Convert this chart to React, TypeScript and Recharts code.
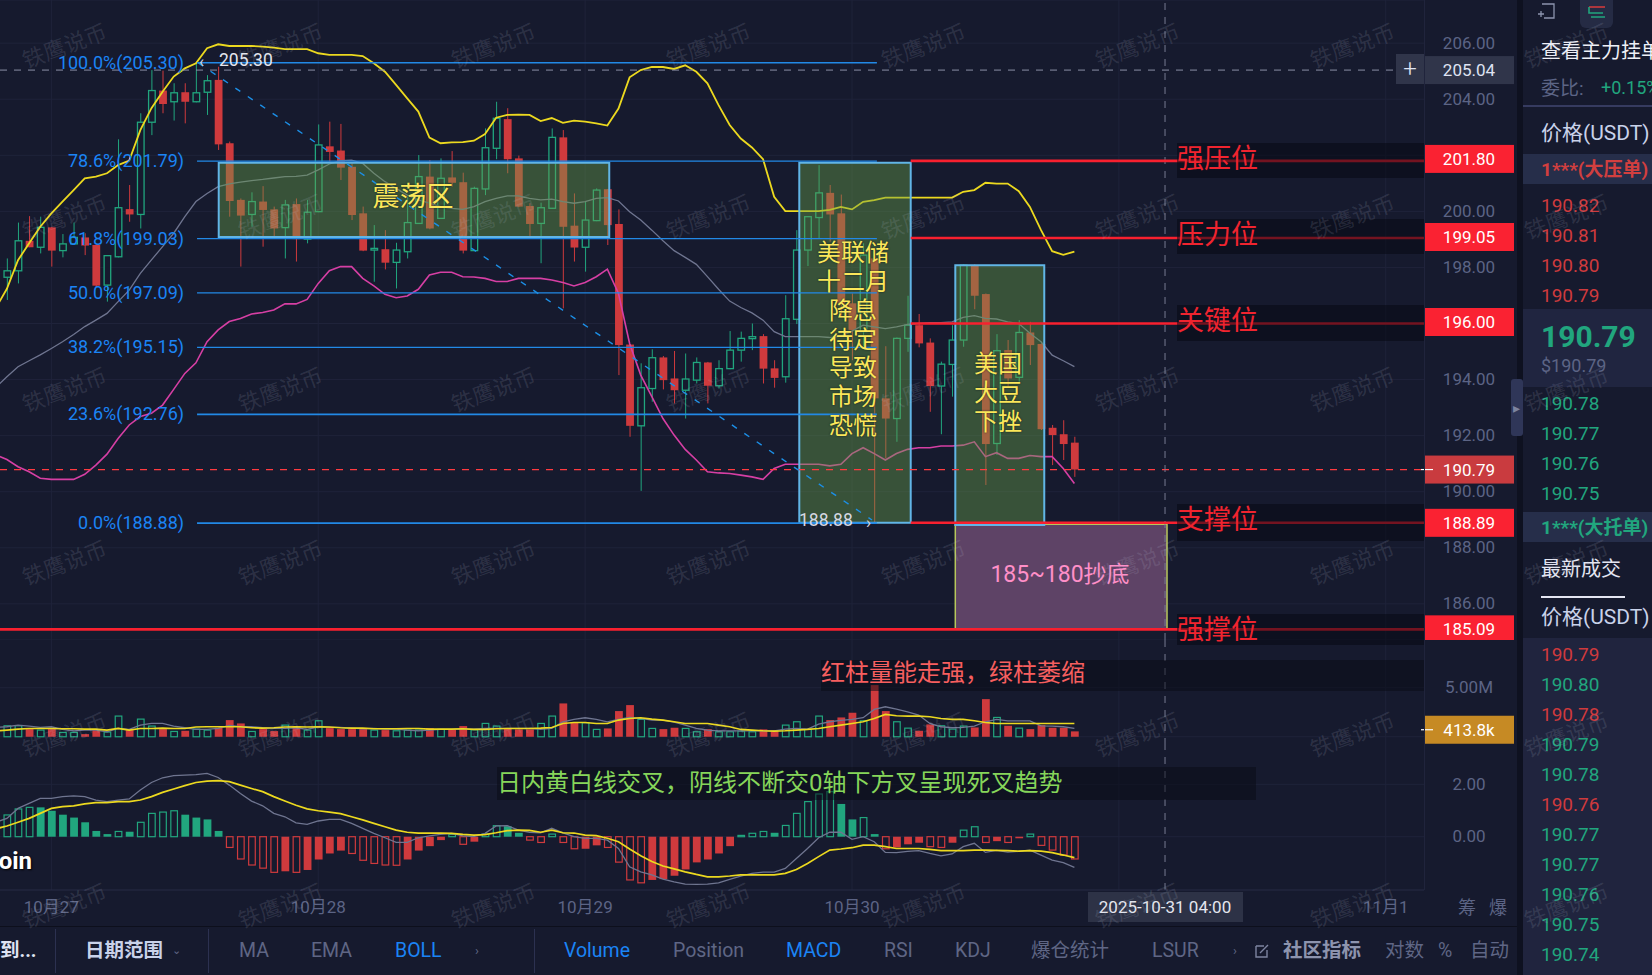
import React from 'react';
import { ComposedChart, Bar, Line, XAxis, YAxis, CartesianGrid, ReferenceLine, ReferenceArea, Label } from 'recharts';

const opens = [
  197.65,197.88,198.95,198.72,199.43,198.60,198.84,199.07,198.80,197.37,
  198.38,200.08,199.89,203.18,204.31,203.91,204.25,203.91,204.25,204.69,
  202.43,200.41,199.89,200.35,200.07,199.42,200.26,199.01,199.99,202.32,
  202.17,201.59,199.93,198.62,198.65,198.18,198.56,199.57,201.24,199.75,
  201.21,201.04,198.60,200.80,202.25,203.29,201.89,200.19,199.57,200.11,
  202.64,199.49,198.72,199.67,200.79,199.55,195.25,192.35,193.68,194.79,
  194.04,193.62,193.98,194.61,193.78,194.39,195.05,195.46,195.55,194.40,
  194.10,196.15,198.62,199.78,200.66,199.93,196.72,195.71,198.32,193.33,
  192.61,195.47,195.94,195.32,193.77,194.54,195.41,198.08,197.05,191.72,
  195.05,194.08,195.68,195.27,192.28,192.05,191.75,
];
const closes = [
  197.88,198.95,198.72,199.43,198.60,198.84,199.07,198.78,197.35,198.42,
  200.13,199.89,203.18,204.31,203.83,204.23,203.91,204.23,204.66,202.39,
  200.37,199.85,200.35,200.05,199.39,200.23,199.01,199.97,202.37,202.12,
  201.56,199.87,198.60,198.68,198.17,198.62,199.60,201.24,199.39,201.18,
  201.02,198.60,200.82,202.27,203.32,201.86,200.17,199.55,200.13,202.64,
  199.45,198.71,199.69,200.76,199.51,195.23,192.35,193.71,194.78,193.98,
  193.62,194.02,194.61,193.78,194.39,195.05,195.47,195.53,194.39,194.06,
  196.17,198.62,199.81,200.66,199.89,196.72,195.76,198.44,193.33,192.61,
  195.47,195.94,195.29,193.77,194.55,195.41,198.08,196.99,191.70,195.03,
  194.04,195.68,195.23,192.23,192.02,191.70,190.79,
];
const highs = [
  198.32,199.60,199.83,199.81,199.45,199.19,199.60,199.22,198.82,198.44,
  202.57,200.94,203.50,205.04,205.02,204.57,204.57,205.30,204.86,205.16,
  202.49,200.46,200.68,200.90,200.17,200.41,200.46,200.41,203.10,203.20,
  203.12,201.71,200.17,199.51,199.33,198.88,200.52,202.01,201.83,201.89,
  202.15,201.38,200.88,202.96,203.91,203.68,201.99,200.29,200.31,202.96,
  202.90,200.64,200.35,200.82,200.80,200.07,195.27,194.58,195.08,194.84,
  195.02,194.93,194.79,194.63,194.69,195.73,195.71,196.00,195.62,194.69,
  197.01,199.33,199.83,201.65,200.94,200.60,197.07,198.86,198.50,195.19,
  195.50,196.99,196.34,195.47,194.64,195.94,198.11,198.11,197.07,195.62,
  195.41,196.12,196.06,195.29,192.38,192.55,191.96,
];
const lows = [
  196.84,197.43,198.72,198.50,198.03,198.36,198.80,198.44,197.31,196.78,
  198.36,199.63,199.39,202.72,203.50,203.24,203.14,203.89,203.44,202.19,
  199.81,198.03,199.45,198.74,199.04,198.32,198.21,198.86,199.97,201.77,
  201.12,199.69,198.58,197.49,197.93,197.25,198.32,199.55,199.36,199.73,
  200.88,198.50,198.58,200.58,201.86,201.36,200.15,199.12,198.15,200.09,
  196.54,198.21,197.85,199.65,198.80,194.16,191.96,190.03,193.21,193.65,
  193.15,192.61,193.86,193.15,193.68,194.37,194.64,195.05,193.86,193.71,
  193.89,195.98,198.05,199.04,198.92,196.24,194.69,195.17,188.88,191.19,
  191.78,194.99,195.15,192.85,192.05,193.39,195.17,196.51,190.24,191.31,
  193.74,193.92,194.52,192.20,190.95,191.13,190.53,
];
const bollUpper = [
  197.24,198.26,198.86,199.45,199.93,200.35,200.76,201.18,201.24,201.36,
  201.65,201.81,202.90,203.68,204.27,204.81,205.10,205.28,205.82,205.96,
  205.90,205.90,205.90,205.88,205.84,205.79,205.79,205.79,205.64,205.58,
  205.58,205.58,205.54,205.28,204.98,204.51,204.03,203.56,202.63,202.43,
  202.46,202.47,202.52,202.76,203.34,203.44,203.45,203.44,203.22,203.33,
  203.16,203.24,203.20,203.14,203.06,203.67,204.78,205.04,205.15,205.15,
  205.08,205.21,204.98,204.57,203.79,203.08,202.60,202.28,201.86,200.52,
  200.01,200.01,200.01,200.01,200.05,200.16,200.07,200.34,200.40,200.49,
  200.49,200.49,200.49,200.49,200.49,200.49,200.70,200.76,201.02,200.99,
  200.99,200.72,200.16,199.33,198.58,198.45,198.56,
];
const bollMid = [
  194.10,194.46,194.67,194.88,195.11,195.35,195.61,195.89,196.12,196.36,
  196.78,197.19,197.79,198.27,198.74,199.22,199.81,200.35,200.64,200.88,
  200.98,201.04,201.10,201.14,201.19,201.24,201.25,201.29,201.48,201.69,
  201.81,201.83,201.71,201.36,201.06,200.82,200.58,200.41,200.29,200.17,
  200.11,200.07,200.17,200.35,200.46,200.55,200.55,200.46,200.41,200.44,
  200.35,200.29,200.35,200.46,200.49,200.37,199.99,199.69,199.33,198.95,
  198.60,198.36,198.11,197.67,197.22,196.80,196.57,196.38,196.12,195.71,
  195.53,195.53,195.53,195.53,195.50,195.55,195.73,195.94,195.88,195.82,
  195.88,195.97,196.00,196.03,196.03,196.06,196.22,196.28,196.18,196.16,
  196.06,196.00,195.65,195.35,194.87,194.67,194.46,
];
const bollLower = [
  191.15,190.89,190.71,190.48,190.44,190.44,190.44,190.62,190.95,191.34,
  191.90,192.38,192.68,192.80,193.09,193.65,194.22,194.60,195.35,195.77,
  196.07,196.18,196.34,196.39,196.48,196.70,196.70,196.86,197.43,197.88,
  198.03,198.03,197.61,197.34,197.04,196.92,196.98,197.22,197.73,197.83,
  197.83,197.67,197.66,197.61,197.50,197.50,197.61,197.61,197.61,197.55,
  197.46,197.34,197.46,197.67,197.94,197.07,195.29,194.16,193.39,192.61,
  192.02,191.51,191.13,190.71,190.67,190.65,190.59,190.53,190.44,190.83,
  190.98,190.98,190.98,190.98,190.92,190.98,191.36,191.57,191.36,191.13,
  191.36,191.51,191.57,191.57,191.63,191.63,191.66,191.78,191.25,191.39,
  191.19,191.19,191.29,191.25,191.25,190.83,190.29,
];
const volumes = [
  1.12,1.12,0.78,0.68,0.78,0.44,0.44,0.27,0.68,0.48,
  2.11,0.68,1.80,1.09,0.78,0.54,0.61,0.78,0.68,0.92,
  1.70,1.36,0.54,0.78,0.58,1.19,1.09,0.68,1.63,0.88,
  0.78,0.78,0.78,0.68,0.68,0.61,0.68,0.68,0.88,0.75,
  0.75,1.09,0.71,1.36,1.09,0.85,0.75,0.75,1.36,2.11,
  3.40,1.43,1.43,0.75,0.85,2.62,3.23,1.77,0.85,0.78,
  0.92,0.85,0.51,0.78,0.51,0.51,0.58,0.51,0.75,0.58,
  1.19,1.53,0.75,2.11,1.70,1.97,2.45,1.63,5.27,2.62,
  1.53,0.88,0.61,1.26,1.12,0.78,1.09,0.95,3.84,1.97,
  1.12,0.88,0.78,1.19,0.92,0.92,0.55,
];
const volMaFast = [
  1.02,1.19,1.09,0.95,1.02,0.75,0.61,0.68,0.68,0.51,
  0.85,0.75,1.19,1.36,1.36,1.09,0.92,0.75,0.75,0.85,
  1.16,1.02,1.02,0.92,0.85,0.85,0.92,0.75,1.02,0.95,
  0.95,0.88,0.82,0.85,0.78,0.78,0.68,0.61,0.68,0.75,
  0.75,0.78,0.78,0.85,0.85,0.85,0.85,0.85,0.75,0.85,
  1.53,1.77,1.94,1.77,1.53,1.77,1.97,1.87,1.70,1.70,
  1.50,1.19,0.85,0.68,0.61,0.61,0.61,0.61,0.61,0.61,
  0.78,0.85,0.78,1.29,1.53,1.67,1.77,1.94,2.79,3.06,
  2.82,2.55,2.21,1.36,1.02,0.92,0.95,1.09,1.53,1.77,
  1.63,1.63,1.63,1.12,1.09,1.02,0.85,
];
const volMaSlow = [
  0.68,0.78,0.85,0.85,0.85,0.82,0.82,0.78,0.78,0.68,
  0.85,0.68,0.85,0.85,0.88,0.85,0.85,0.99,1.02,1.02,
  1.02,1.02,0.92,0.88,0.92,0.99,1.02,0.99,1.02,0.99,
  0.92,0.88,0.88,0.82,0.82,0.82,0.85,0.85,0.78,0.78,
  0.78,0.82,0.75,0.75,0.82,0.85,0.85,0.85,0.88,0.95,
  1.36,1.46,1.46,1.36,1.36,1.70,1.87,1.94,1.80,1.70,
  1.53,1.36,1.36,1.36,1.19,1.02,0.75,0.68,0.61,0.58,
  0.61,0.68,0.75,0.85,1.02,1.19,1.36,1.53,1.87,2.28,
  2.14,2.11,2.11,2.04,1.87,1.77,1.77,1.63,1.46,1.36,
  1.36,1.36,1.36,1.36,1.36,1.36,1.36,
];
const macdHist = [
  0.83,1.06,1.12,1.12,0.99,0.84,0.73,0.55,0.22,0.10,
  0.20,0.19,0.55,0.89,0.94,0.99,0.84,0.73,0.66,0.22,
  -0.41,-0.85,-1.08,-1.20,-1.36,-1.32,-1.36,-1.27,-0.87,-0.64,
  -0.53,-0.64,-0.90,-1.02,-1.08,-1.09,-0.87,-0.53,-0.36,-0.13,
  0.09,-0.29,-0.19,0.10,0.42,0.40,0.15,-0.13,-0.22,0.10,
  -0.22,-0.46,-0.46,-0.33,-0.41,-0.97,-1.65,-1.76,-1.65,-1.62,
  -1.49,-1.25,-0.98,-0.87,-0.64,-0.36,0.05,0.13,0.20,0.15,
  0.43,0.89,1.34,1.63,1.72,1.25,0.66,0.73,0.10,-0.46,
  -0.41,-0.29,-0.23,-0.38,-0.41,-0.23,0.25,0.38,-0.22,-0.17,
  -0.22,-0.06,0.10,-0.33,-0.51,-0.70,-0.85,
];
const macdDif = [
  0.70,1.08,1.27,1.46,1.46,1.53,1.56,1.53,1.40,1.34,
  1.40,1.44,1.78,2.07,2.25,2.33,2.35,2.37,2.42,2.26,
  1.97,1.65,1.36,1.18,0.89,0.76,0.53,0.47,0.60,0.66,
  0.66,0.51,0.32,0.13,-0.04,-0.22,-0.22,-0.04,0.03,0.09,
  0.13,0.03,0.00,0.13,0.41,0.42,0.25,0.17,0.15,0.32,
  0.15,0.00,-0.06,-0.06,-0.13,-0.45,-1.15,-1.34,-1.46,-1.62,
  -1.72,-1.81,-1.82,-1.81,-1.76,-1.63,-1.50,-1.40,-1.35,-1.35,
  -1.21,-0.83,-0.45,-0.04,0.17,0.17,-0.10,0.00,-0.19,-0.60,
  -0.61,-0.56,-0.53,-0.64,-0.73,-0.66,-0.38,-0.25,-0.60,-0.52,
  -0.59,-0.56,-0.51,-0.70,-0.89,-0.99,-1.17,
];
const macdDea = [
  0.41,0.55,0.70,0.89,1.08,1.15,1.18,1.25,1.30,1.30,
  1.34,1.34,1.40,1.53,1.69,1.82,1.95,2.07,2.12,2.14,
  2.10,1.97,1.84,1.72,1.53,1.36,1.20,1.06,0.99,0.94,
  0.88,0.76,0.64,0.51,0.38,0.25,0.17,0.14,0.14,0.14,
  0.13,0.09,0.06,0.08,0.15,0.23,0.25,0.24,0.17,0.25,
  0.15,0.14,0.06,0.04,-0.06,-0.19,-0.47,-0.73,-0.95,-1.12,
  -1.23,-1.34,-1.44,-1.53,-1.53,-1.50,-1.46,-1.46,-1.46,-1.46,
  -1.40,-1.25,-1.02,-0.76,-0.51,-0.47,-0.42,-0.32,-0.32,-0.38,
  -0.45,-0.45,-0.45,-0.48,-0.53,-0.53,-0.53,-0.51,-0.51,-0.52,
  -0.53,-0.55,-0.53,-0.55,-0.61,-0.70,-0.80,
];
// indicator values of the bar just left of the visible window
const leadIn = { i: -1, upper: 196.55, mid: 193.72, lower: 191.32, fast: 0.95, slow: 0.6, dif: 0.55, dea: 0.3 };

const fibLevels = [
  { name: '100.0%(205.30)', value: 205.3, thick: true },
  { name: '78.6%(201.79)', value: 201.79, thick: false },
  { name: '61.8%(199.03)', value: 199.03, thick: false },
  { name: '50.0%(197.09)', value: 197.09, thick: false },
  { name: '38.2%(195.15)', value: 195.15, thick: false },
  { name: '23.6%(192.76)', value: 192.76, thick: true },
  { name: '0.0%(188.88)', value: 188.88, thick: true },
];
const levelLines = [
  { value: 201.8, from: 81.28, label: '201.80' },
  { value: 199.05, from: 81.28, label: '199.05' },
  { value: 196.0, from: 81.28, label: '196.00' },
  { value: 188.89, from: 81.28, label: '188.89' },
  { value: 185.09, from: -0.62, label: '185.09' },
];
const tagShift = [-2, -1, -1.5, 0, 0];
const zones = [
  { x1: 19.05, x2: 54.17, y1: 199.09, y2: 201.73 },
  { x1: 71.26, x2: 81.28, y1: 188.89, y2: 201.73 },
  { x1: 85.29, x2: 93.29, y1: 188.81, y2: 198.08 },
];
const priceTicks = [206, 204, 202, 200, 198, 196, 194, 192, 190, 188, 186];
const dateTicks = [4, 28, 52, 76, 100, 124];
const dateLabels = ['10月27', '10月28', '10月29', '10月30', '10月31', '11月1'];
const askPrices = ['190.82', '190.81', '190.80', '190.79'];
const bidPrices = ['190.78', '190.77', '190.76', '190.75'];
const tradePrices = [
  ['190.79', 'r'], ['190.80', 'g'], ['190.78', 'r'], ['190.79', 'g'], ['190.78', 'g'], ['190.76', 'r'],
  ['190.77', 'g'], ['190.77', 'g'], ['190.76', 'g'], ['190.75', 'g'], ['190.74', 'g'],
];
const levelTexts = [
  { t: '强压位', y: 159, s: 143, h: 35 }, { t: '压力位', y: 235, s: 219, h: 35 }, { t: '关键位', y: 321, s: 305, h: 36 },
  { t: '支撑位', y: 520, s: 504, h: 37 }, { t: '强撑位', y: 630, s: 614, h: 31 },
];
const toolbarItems = [
  { t: '到...', x: 0, c: '#dfe3f2', b: 1 }, { t: '日期范围', x: 85, c: '#c9d2ea', b: 1 }, { t: 'MA', x: 239, c: '#5f6685' }, { t: 'EMA', x: 311, c: '#5f6685' },
  { t: 'BOLL', x: 395, c: '#1b84f5' }, { t: 'Volume', x: 564, c: '#1b84f5' }, { t: 'Position', x: 673, c: '#5f6685' }, { t: 'MACD', x: 786, c: '#1b84f5' },
  { t: 'RSI', x: 884, c: '#5f6685' }, { t: 'KDJ', x: 955, c: '#5f6685' }, { t: '爆仓统计', x: 1031, c: '#5f6685' }, { t: 'LSUR', x: 1152, c: '#5f6685' },
  { t: '社区指标', x: 1283, c: '#8d94ae', b: 1 }, { t: '对数', x: 1385, c: '#5f6685' }, { t: '%', x: 1438, c: '#5f6685' }, { t: '自动', x: 1470, c: '#5f6685' },
];
const wmXs = [65, 281, 494, 709, 924, 1138, 1353, 1567];
const wmYs = [47, 218, 391, 564, 736, 907];

const rows = [leadIn as any].concat(opens.map((o, i) => ({
  i, o, c: closes[i], h: highs[i], l: lows[i],
  range: [lows[i], highs[i]],
  upper: bollUpper[i], mid: bollMid[i], lower: bollLower[i],
  vol: volumes[i], fast: volMaFast[i], slow: volMaSlow[i],
  hist: macdHist[i], prev: i > 0 ? macdHist[i - 1] : 0, dif: macdDif[i], dea: macdDea[i],
})));

const BG = '#161a2e';
const GREEN = '#21a67e';
const RED = '#cf3a3d';
const GRID = '#1f233a';
const TXT = '#5c6485';
const FONT = 'Roboto, "Noto Sans CJK SC", sans-serif';
const XDOMAIN = [-0.62, 127.44];
const PRICE_DOMAIN = [184.71, 207.54];
const CROSS = 104.15;
const YELLOW = '#ecd91f';
const GREY = '#6f7590';

const Candle = (p: any) => {
  const { x, width, y, height, payload } = p;
  const { o, c, h, l } = payload;
  if (o === undefined) return null;
  const k = height / (h - l);
  const cx = x + width / 2;
  const up = c >= o;
  const col = up ? GREEN : RED;
  const top = y + (h - Math.max(o, c)) * k;
  const bh = Math.max(Math.abs(o - c) * k, 1);
  return (
    <g>
      <line x1={cx} x2={cx} y1={y} y2={y + height} stroke={col} strokeWidth={1} />
      {up
        ? <rect x={cx - 3.3} y={top} width={6.6} height={bh} fill={BG} stroke={col} strokeWidth={1.3} />
        : <rect x={cx - 3.9} y={top} width={7.8} height={bh} fill={col} />}
    </g>
  );
};
const VolBar = (p: any) => {
  const { x, width, y, height, payload } = p;
  if (payload.o === undefined) return null;
  const cx = x + width / 2;
  const up = payload.c >= payload.o;
  return up
    ? <rect x={cx - 3.3} y={y} width={6.6} height={height} fill="none" stroke={GREEN} strokeWidth={1.2} />
    : <rect x={cx - 3.9} y={y} width={7.8} height={height} fill={RED} />;
};
const MacdBar = (p: any) => {
  const { x, width, y, height, payload } = p;
  const v = payload.hist;
  if (v === undefined) return null;
  const cx = x + width / 2;
  const col = v >= 0 ? GREEN : RED;
  const hollow = v >= 0 ? v > payload.prev : v < payload.prev;
  const top = Math.min(y, y + height);
  const h = Math.abs(height);
  return hollow
    ? <rect x={cx - 3.3} y={top} width={6.6} height={h} fill="none" stroke={col} strokeWidth={1.2} />
    : <rect x={cx - 3.9} y={top} width={7.8} height={h} fill={col} />;
};
const axisTick = (fmt: (v: number) => string) => (p: any) => (
  <text x={p.x + 45} y={p.y + 5.5} textAnchor="middle" fontSize={17} fontFamily={FONT} fill={TXT}>{fmt(p.payload.value)}</text>
);
const tagContent = (text: string, bg: string, dash: boolean, dy: number, tc = '#fff') => (p: any) => {
  const vb = p.viewBox;
  const right = vb.x + vb.width;
  const cy = vb.y + dy;
  return (
    <g>
      <rect x={right} y={cy - 14} width={90} height={28} fill={bg} />
      {dash ? <line x1={right - 3} x2={right + 9} y1={cy} y2={cy} stroke="#fff" strokeWidth={1.2} /> : null}
      <text x={right + 45} y={cy + 6} textAnchor="middle" fontSize={17} fontFamily={FONT} fill={tc}>{text}</text>
    </g>
  );
};
const fibLabel = (text: string) => (p: any) => (
  <text x={p.viewBox.x - 13} y={p.viewBox.y + 6} textAnchor="end" fontSize={18} fontFamily={FONT} fill="#1b84f5">{text}</text>
);

const T = ({ x, y, c, s, t, w, a, extra }: any) => (
  <div style={{
    position: 'absolute', left: x, top: y, color: c, fontSize: s, fontWeight: w || 400, fontFamily: FONT, lineHeight: 1, whiteSpace: 'nowrap',
    transform: a === 'c' ? 'translate(-50%,-50%)' : 'translateY(-50%)', ...(extra || {}),
  }}>{t}</div>
);
const Rect = ({ x, y, w, h, c, extra }: any) => (
  <div style={{ position: 'absolute', left: x, top: y, width: w, height: h, background: c, ...(extra || {}) }} />
);
const glow = { textShadow: '0 0 2px rgba(10,12,20,0.8)' };

export default function App() {
  return (
    <div style={{ position: 'absolute', left: 0, top: 0, width: 1652, height: 975, overflow: 'hidden', background: BG }}>
      {/* price panel: marks */}
      <div style={{ position: 'absolute', left: 0, top: 0 }}>
        <ComposedChart width={1516} height={640} data={rows} margin={{ top: 0, right: 0, bottom: 0, left: 0 }}>
          <CartesianGrid stroke={GRID} verticalValues={dateTicks} />
          <XAxis type="number" dataKey="i" domain={XDOMAIN} allowDataOverflow hide />
          <YAxis orientation="right" width={92} domain={PRICE_DOMAIN} allowDataOverflow ticks={priceTicks} interval={0}
            axisLine={false} tickLine={false} tickSize={0} tickMargin={0} tick={axisTick((v) => v.toFixed(2))} />
          <Bar dataKey="range" barSize={8} shape={(p: any) => <Candle {...p} />} isAnimationActive={false} />
          <Line dataKey="upper" dot={false} activeDot={false} stroke={YELLOW} strokeWidth={1.8} isAnimationActive={false} />
          <Line dataKey="mid" dot={false} activeDot={false} stroke={GREY} strokeWidth={1.3} isAnimationActive={false} />
          <Line dataKey="lower" dot={false} activeDot={false} stroke="#d63fa4" strokeWidth={1.6} isAnimationActive={false} />
        </ComposedChart>
      </div>
      {/* price panel: drawings above the marks */}
      <div style={{ position: 'absolute', left: 0, top: 0 }}>
        <ComposedChart width={1516} height={640} data={rows} margin={{ top: 0, right: 92, bottom: 0, left: 0 }}>
          <XAxis type="number" dataKey="i" domain={XDOMAIN} allowDataOverflow hide />
          <YAxis domain={PRICE_DOMAIN} allowDataOverflow hide />
          <ReferenceLine y={205.04} stroke="#8a8fa5" strokeWidth={1} strokeDasharray="7 7" />
          <ReferenceLine y={190.79} stroke="#ff3b40" strokeWidth={1.3} strokeDasharray="7 7">
            <Label content={tagContent('190.79', '#c93b3f', true, 0)} />
          </ReferenceLine>
          <ReferenceLine x={CROSS} stroke="#767b91" strokeWidth={1} strokeDasharray="7 7" />
          {fibLevels.map((f) => (
            <ReferenceLine key={f.name} segment={[{ x: 17.1, y: f.value }, { x: 78.24, y: f.value }]} stroke="#2289e6" strokeWidth={f.thick ? 1.6 : 1.2}>
              <Label content={fibLabel(f.name)} />
            </ReferenceLine>
          ))}
          <ReferenceLine segment={[{ x: 17.2, y: 205.3 }, { x: 77.8, y: 188.99 }]} stroke="#1c8fe6" strokeWidth={1.4} strokeDasharray="6 9" />
          <ReferenceArea x1={85.29} x2={104.33} y1={185.09} y2={188.84} fill="#5e4366" fillOpacity={1} stroke="#b7c75c" strokeWidth={1.5} />
          {zones.map((z) => (
            <ReferenceArea key={z.x1} x1={z.x1} x2={z.x2} y1={z.y1} y2={z.y2} fill="#68a04b" fillOpacity={0.42} stroke="#61b5e6" strokeWidth={2} />
          ))}
          {levelLines.map((l, k) => (
            <ReferenceLine key={l.label} segment={[{ x: l.from, y: l.value }, { x: 127.44, y: l.value }]} stroke="#f8202f" strokeWidth={2.6}>
              <Label content={tagContent(l.label, '#fa2232', false, tagShift[k])} />
            </ReferenceLine>
          ))}
          <ReferenceLine y={205.04} stroke="none">
            <Label content={tagContent('205.04', '#30354a', false, 0, '#dfe3f2')} />
          </ReferenceLine>
        </ComposedChart>
      </div>
      {/* volume panel */}
      <div style={{ position: 'absolute', left: 0, top: 640 }}>
        <ComposedChart width={1516} height={105} data={rows} margin={{ top: 0, right: 0, bottom: 0, left: 0 }}>
          <CartesianGrid stroke={GRID} horizontalValues={[0, 5]} verticalValues={dateTicks} />
          <XAxis type="number" dataKey="i" domain={XDOMAIN} allowDataOverflow hide />
          <YAxis orientation="right" width={92} domain={[-0.84, 9.87]} allowDataOverflow ticks={[5]} interval={0}
            axisLine={false} tickLine={false} tickSize={0} tickMargin={0} tick={axisTick((v) => v.toFixed(2) + 'M')} />
          <Bar dataKey="vol" barSize={8} shape={(p: any) => <VolBar {...p} />} isAnimationActive={false} />
          <Line dataKey="fast" dot={false} activeDot={false} stroke={GREY} strokeWidth={1.3} isAnimationActive={false} />
          <Line dataKey="slow" dot={false} activeDot={false} stroke={YELLOW} strokeWidth={1.6} isAnimationActive={false} />
          <ReferenceLine x={CROSS} stroke="#767b91" strokeWidth={1} strokeDasharray="7 7" />
          <ReferenceLine y={0.41} stroke="none">
            <Label content={tagContent('413.8k', '#c68a24', true, -3)} />
          </ReferenceLine>
        </ComposedChart>
      </div>
      {/* MACD panel */}
      <div style={{ position: 'absolute', left: 0, top: 745 }}>
        <ComposedChart width={1516} height={181} data={rows} margin={{ top: 0, right: 0, bottom: 0, left: 0 }}>
          <CartesianGrid stroke={GRID} horizontalValues={[2, 0]} verticalValues={dateTicks} />
          <XAxis type="number" dataKey="i" domain={XDOMAIN} allowDataOverflow ticks={dateTicks} interval={0} height={36}
            axisLine={{ stroke: '#262b44' }} tickLine={false}
            tick={(p: any) => (
              <text x={p.x} y={p.y + 15} textAnchor="middle" fontSize={17} fontFamily={FONT} fill={TXT}>{dateLabels[dateTicks.indexOf(p.payload.value)]}</text>
            )} />
          <YAxis orientation="right" width={92} domain={[-2.034, 3.5]} allowDataOverflow ticks={[2, 0]} interval={0}
            axisLine={false} tickLine={false} tickSize={0} tickMargin={0} tick={axisTick((v) => v.toFixed(2))} />
          <Bar dataKey="hist" barSize={8} shape={(p: any) => <MacdBar {...p} />} isAnimationActive={false} />
          <Line dataKey="dif" dot={false} activeDot={false} stroke={GREY} strokeWidth={1.3} isAnimationActive={false} />
          <Line dataKey="dea" dot={false} activeDot={false} stroke={YELLOW} strokeWidth={1.7} isAnimationActive={false} />
          <ReferenceLine x={CROSS} stroke="#767b91" strokeWidth={1} strokeDasharray="7 7" />
        </ComposedChart>
      </div>

      {/* annotation strips and texts */}
      {levelTexts.map((l) => (
        <React.Fragment key={l.t}>
          <Rect x={1177} y={l.s} w={247} h={l.h} c="rgba(8,10,20,0.55)" />
          <T x={1177} y={l.y} c="#f0242f" s={27} t={l.t} />
        </React.Fragment>
      ))}
      <Rect x={821} y={660} w={603} h={31} c="rgba(8,10,20,0.5)" />
      <T x={821} y={673} c="#f75f5f" s={24} t="红柱量能走强，绿柱萎缩" />
      <Rect x={497} y={767} w={759} h={33} c="rgba(8,10,20,0.5)" />
      <T x={497} y={783} c="#86d65a" s={24} t="日内黄白线交叉，阴线不断交0轴下方叉呈现死叉趋势" />
      <T x={413} y={197} a="c" c="#fbe75a" s={27} t="震荡区" extra={glow} />
      {['美联储', '十二月', '降息', '待定', '导致', '市场', '恐慌'].map((t, k) => (
        <T key={t} x={853} y={[253, 282, 311, 340, 368, 397, 426][k]} a="c" c="#fbe75a" s={24} t={t} extra={glow} />
      ))}
      {['美国', '大豆', '下挫'].map((t, k) => (
        <T key={t} x={998} y={[364, 393, 422][k]} a="c" c="#fbe75a" s={24} t={t} extra={glow} />
      ))}
      <T x={1060} y={574} a="c" c="#ff8fc8" s={23} t="185~180抄底" />
      <T x={199} y={61} c="#d5d8e2" s={17} t="‹" />
      <T x={219} y={61} c="#e4e6ee" s={17.5} t="205.30" />
      <T x={799} y={521} c="#d5d8e2" s={17.5} t="188.88" />
      <T x={866} y={522} c="#d5d8e2" s={17} t="›" />
      <T x={-17} y={861} c="#ffffff" s={24} w={700} t="Coin" extra={{ textShadow: '1px 1px 2px #000' }} />

      {/* crosshair furniture */}
      <Rect x={1396} y={54} w={28} h={30} c="#30354a" />
      <T x={1410} y={69} a="c" c="#dfe3f2" s={24} w={300} t="+" />
      <Rect x={1088} y={892} w={155} h={30} c="#2d3246" />
      <T x={1165} y={907} a="c" c="#e4e6ee" s={17} t="2025-10-31 04:00" />
      <T x={1467} y={908} a="c" c={TXT} s={18} t="筹" />
      <T x={1498} y={908} a="c" c={TXT} s={18} t="爆" />
      <Rect x={1424} y={0} w={1} h={890} c="#20243c" />

      {/* toolbar */}
      <Rect x={0} y={926} w={1517} h={1} c="#0d0f1c" />
      {[55, 208, 534].map((x) => <Rect key={x} x={x} y={929} w={1} h={44} c="#2c3150" />)}
      {toolbarItems.map((it) => (
        <T key={it.t} x={it.x} y={951} c={it.c} s={19.5} w={it.b ? 700 : 400} t={it.t} />
      ))}
      <T x={172} y={950} c="#5f6685" s={11} t="⌄" />
      <T x={475} y={950} c="#5f6685" s={13} t="›" />
      <T x={1233} y={950} c="#5f6685" s={13} t="›" />
      <svg style={{ position: 'absolute', left: 1254, top: 943 }} width="16" height="16">
        <path d="M2 3h8M2 3v11h11V7M6 10l8-8" stroke="#7d84a0" strokeWidth="1.4" fill="none" />
      </svg>

      {/* right order book */}
      <Rect x={1517} y={0} w={6} h={975} c="#0e1120" />
      <Rect x={1511} y={379} w={12} h={57} c="#2f3658" extra={{ borderRadius: 3 }} />
      <T x={1513} y={408} c="#7d84a0" s={14} t="▸" />
      <Rect x={1580} y={0} w={33} h={28} c="#252b44" extra={{ borderRadius: '0 0 6px 6px' }} />
      <svg style={{ position: 'absolute', left: 1536, top: 2 }} width="20" height="18">
        <path d="M6 2h12v14H8M2 12h6M5 9v6" stroke="#8d94ae" strokeWidth="1.3" fill="none" />
      </svg>
      <svg style={{ position: 'absolute', left: 1587, top: 4 }} width="20" height="16">
        <path d="M2 3h16" stroke="#cf3a3d" strokeWidth="1.6" />
        <path d="M2 3v6h14M18 13H4" stroke={GREEN} strokeWidth="1.6" fill="none" />
      </svg>
      <T x={1541} y={51} c="#eef0f7" s={20} t="查看主力挂单" />
      <T x={1541} y={88} c={TXT} s={19} t="委比:" />
      <T x={1601} y={88} c={GREEN} s={18} t="+0.15%" />
      <Rect x={1523} y={105} w={129} h={2} c="#363b60" />
      <T x={1541} y={133} c="#c9d2ea" s={21} t="价格(USDT)" />
      <Rect x={1523} y={154} w={129} h={30} c="#262e4a" />
      <T x={1541} y={169} c="#d23f3f" s={19} w={700} t="1***(大压单)" />
      {askPrices.map((p, k) => <T key={p} x={1541} y={205 + 30 * k} c={RED} s={19} t={p} />)}
      <Rect x={1523} y={309} w={129} h={78} c="#202540" />
      <T x={1541} y={337} c={GREEN} s={30} w={700} t="190.79" />
      <T x={1541} y={366} c={TXT} s={18} t="$190.79" />
      {bidPrices.map((p, k) => <T key={p} x={1541} y={403 + 30 * k} c={GREEN} s={19} t={p} />)}
      <Rect x={1523} y={512} w={129} h={30} c="#262e4a" />
      <T x={1541} y={527} c={GREEN} s={19} w={700} t="1***(大托单)" />
      <T x={1541} y={569} c="#e4e6f2" s={20} t="最新成交" />
      <Rect x={1541} y={596} w={84} h={2} c="#e4e6f2" />
      <T x={1541} y={617} c="#c9d2ea" s={21} t="价格(USDT)" />
      <Rect x={1523} y={638} w={129} h={337} c="#20243e" />
      {tradePrices.map((p, k) => (
        <T key={k} x={1541} y={654 + 30 * k} c={p[1] === 'r' ? RED : GREEN} s={19} t={p[0]} />
      ))}

      {/* watermarks */}
      {wmXs.flatMap((x) => wmYs.map((y) => (
        <div key={x + '-' + y} style={{
          position: 'absolute', left: x, top: y, transform: 'translate(-50%,-50%) rotate(-20deg)', fontSize: 22, lineHeight: 1,
          fontFamily: FONT, color: 'rgba(190,196,220,0.15)', whiteSpace: 'nowrap', pointerEvents: 'none',
        }}>铁鹰说币</div>
      )))}
    </div>
  );
}
